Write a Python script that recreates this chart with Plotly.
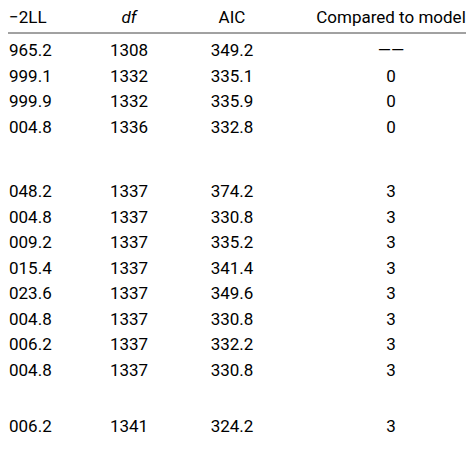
import plotly.graph_objects as go

headers = ["\u22122LL", "<i>df</i>", "AIC", "Compared to model"]
# first column is cropped at the left edge in the reference; visible parts only
neg2ll = ["965.2", "999.1", "999.9", "004.8", "048.2", "004.8", "009.2", "015.4", "023.6", "004.8", "006.2", "004.8", "006.2"]
df_vals = ["1308", "1332", "1332", "1336", "1337", "1337", "1337", "1337", "1337", "1337", "1337", "1337", "1341"]
aic = ["349.2", "335.1", "335.9", "332.8", "374.2", "330.8", "335.2", "341.4", "349.6", "330.8", "332.2", "330.8", "324.2"]
compared = ["\u2014\u2014", "0", "0", "0", "3", "3", "3", "3", "3", "3", "3", "3", "3"]
row_y = [44, 70, 95, 121, 185, 211, 236, 262, 287, 313, 338, 364, 420]

font = dict(family="Roboto, sans-serif", size=17, color="#000")
fig = go.Figure()
fig.add_trace(go.Scatter(x=[1]*len(row_y), y=row_y, text=neg2ll, mode="text",
                         textposition="middle right", textfont=font, cliponaxis=False))
for xc, col in [(121, df_vals), (224, aic), (383, compared)]:
    fig.add_trace(go.Scatter(x=[xc]*len(row_y), y=row_y, text=col, mode="text",
                             textposition="middle center", textfont=font, cliponaxis=False))
fig.add_trace(go.Scatter(x=[1, 121, 224, 383], y=[11]*4, text=headers, mode="text",
                         textposition=["middle right", "middle center", "middle center", "middle center"],
                         textfont=font, cliponaxis=False))
fig.add_shape(type="line", x0=0, x1=474, y0=25, y1=25, line=dict(color="#444", width=1))
fig.update_layout(width=474, height=474, margin=dict(l=0, r=0, t=0, b=0),
                  paper_bgcolor="white", plot_bgcolor="white", showlegend=False,
                  xaxis=dict(range=[0, 474], visible=False, fixedrange=True),
                  yaxis=dict(range=[474, 0], visible=False, fixedrange=True))
fig.write_html("out.html")
